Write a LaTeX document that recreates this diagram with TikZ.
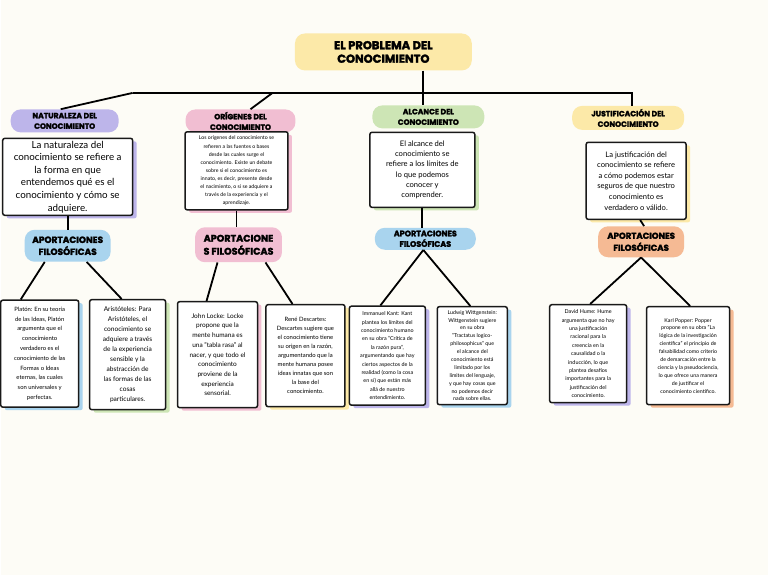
\documentclass[tikz,border=0pt]{standalone}
\usepackage{fontspec}
\setmainfont{Lato}
\newfontfamily\headfont[FakeBold=2.5]{Poppins}
\usetikzlibrary{shadows}
\definecolor{bgcol}{HTML}{FDFCF6}
\definecolor{ttlyellow}{HTML}{FCE9A8}
\definecolor{lavender}{HTML}{BDB5EA}
\definecolor{rosepink}{HTML}{F1BED2}
\definecolor{leafgreen}{HTML}{CDE5B5}
\definecolor{skyblue}{HTML}{A9D4EE}
\definecolor{peach}{HTML}{F5BA94}
\newcommand{\fsz}[2]{\fontsize{#1}{#2}\selectfont}
\begin{document}
\begin{tikzpicture}[x=1pt,y=-1pt,
    pill/.style={fill=#1, rounded corners=10pt, align=center, inner sep=0pt,
      font=\headfont\bfseries\fsz{7.6}{10.5}},
    card/.style={draw=black!90, line width=1.5pt, fill=white, rounded corners=2pt,
      align=center, inner sep=0pt,
      general shadow={fill=#1, shadow xshift=4pt, shadow yshift=-3pt}},
    link/.style={line width=1.8pt, black}]
        \fill [bgcol] (0,0) rectangle (768,576);
        \node [pill=ttlyellow, minimum width=177pt, minimum height=37pt, font=\headfont\bfseries\fsz{11.5}{13.5}] (title) at (383,52) {EL PROBLEMA DEL\\CONOCIMIENTO};
        \node [pill=lavender, minimum width=108pt, minimum height=23pt] (nat) at (64,121) {NATURALEZA DEL\\CONOCIMIENTO};
        \node [pill=rosepink, minimum width=110pt, minimum height=23pt] (ori) at (240,121) {ORÍGENES DEL\\CONOCIMIENTO};
        \node [pill=leafgreen, minimum width=112pt, minimum height=23pt] (alc) at (428,117) {ALCANCE DEL\\CONOCIMIENTO};
        \node [pill=ttlyellow, minimum width=112pt, minimum height=24pt] (jus) at (628,118) {JUSTIFICACIÓN DEL\\CONOCIMIENTO};

        \node [card=lavender, minimum width=130pt, minimum height=77pt, font=\fsz{9.8}{12.6}] (natdesc) at (67,177) {La naturaleza del\\conocimiento se refiere a\\la forma en que\\entendemos qué es el\\conocimiento y cómo se\\adquiere.};
        \node [card=rosepink, minimum width=103pt, minimum height=78pt, font=\fsz{5.2}{8.1}] (oridesc) at (236,171) {Los orígenes del conocimiento se\\refieren a las fuentes o bases\\desde las cuales surge el\\conocimiento. Existe un debate\\sobre si el conocimiento es\\innato, es decir, presente desde\\el nacimiento, o si se adquiere a\\través de la experiencia y el\\aprendizaje.};
        \node [card=leafgreen, minimum width=105pt, minimum height=75pt, font=\fsz{7.6}{10.4}] (alcdesc) at (422,170) {El alcance del\\conocimiento se\\refiere a los límites de\\lo que podemos\\conocer y\\comprender.};
        \node [card=ttlyellow, minimum width=100pt, minimum height=77pt, font=\fsz{7.6}{10.6}] (jusdesc) at (636,181) {La justificación del\\conocimiento se refiere\\a cómo podemos estar\\seguros de que nuestro\\conocimiento es\\verdadero o válido.};

        \node [pill=skyblue, minimum width=86pt, minimum height=32pt, font=\headfont\bfseries\fsz{9}{12}] (apo1) at (67,246) {APORTACIONES\\FILOSÓFICAS};
        \node [pill=rosepink, minimum width=87pt, minimum height=35pt, font=\headfont\bfseries\fsz{9.6}{13}] (apo2) at (238,245) {APORTACIONE\\S FILOSÓFICAS};
        \node [pill=skyblue, minimum width=101pt, minimum height=22pt, font=\headfont\bfseries\fsz{8}{10.5}] (apo3) at (425,239) {APORTACIONES\\FILOSÓFICAS};
        \node [pill=peach, minimum width=86pt, minimum height=31pt, font=\headfont\bfseries\fsz{8.6}{12}] (apo4) at (641,242) {APORTACIONES\\FILOSÓFICAS};

        \node [card=skyblue, minimum width=78pt, minimum height=107pt, font=\fsz{5.9}{9.8}] (platon) at (39,354) {Platón: En su teoría\\de las Ideas, Platón\\argumenta que el\\conocimiento\\verdadero es el\\conocimiento de las\\Formas o Ideas\\eternas, las cuales\\son universales y\\perfectas.};
        \node [card=leafgreen, minimum width=76pt, minimum height=110pt, font=\fsz{6.6}{10}] (aristo) at (127,355) {Aristóteles: Para\\Aristóteles, el\\conocimiento se\\adquiere a través\\de la experiencia\\sensible y la\\abstracción de\\las formas de las\\cosas\\particulares.};
        \node [card=rosepink, minimum width=80pt, minimum height=106pt, font=\fsz{6.5}{9.7}] (locke) at (217,355) {John Locke: Locke\\propone que la\\mente humana es\\una "tabla rasa" al\\nacer, y que todo el\\conocimiento\\proviene de la\\experiencia\\sensorial.};
        \node [card=ttlyellow, minimum width=79pt, minimum height=102pt, font=\fsz{5.9}{9}] (descartes) at (305,356) {René Descartes:\\Descartes sugiere que\\el conocimiento tiene\\su origen en la razón,\\argumentando que la\\mente humana posee\\ideas innatas que son\\la base del\\conocimiento.};
        \node [card=lavender, minimum width=76pt, minimum height=99pt, font=\fsz{5.4}{8.4}] (kant) at (387,356) {Immanuel Kant: Kant\\plantea los límites del\\conocimiento humano\\en su obra "Crítica de\\la razón pura",\\argumentando que hay\\ciertos aspectos de la\\realidad (como la cosa\\en sí) que están más\\allá de nuestro\\entendimiento.};
        \node [card=skyblue, minimum width=70pt, minimum height=98pt, font=\fsz{5.3}{7.9}] (witt) at (472,356) {Ludwig Wittgenstein:\\Wittgenstein sugiere\\en su obra\\"Tractatus logico-\\philosophicus" que\\el alcance del\\conocimiento está\\limitado por los\\límites del lenguaje,\\y que hay cosas que\\no podemos decir\\nada sobre ellas.};
        \node [card=lavender, minimum width=77pt, minimum height=98pt, font=\fsz{5.4}{8.4}] (hume) at (588,354) {David Hume: Hume\\argumenta que no hay\\una justificación\\racional para la\\creencia en la\\causalidad o la\\inducción, lo que\\plantea desafíos\\importantes para la\\justificación del\\conocimiento.};
        \node [card=peach, minimum width=83pt, minimum height=98pt, font=\fsz{5.3}{7.9}] (popper) at (688,356) {Karl Popper: Popper\\propone en su obra "La\\lógica de la investigación\\científica" el principio de\\falsabilidad como criterio\\de demarcación entre la\\ciencia y la pseudociencia,\\lo que ofrece una manera\\de justificar el\\conocimiento científico.};

        \coordinate (hub) at (423,93);
        \coordinate (hl) at (132,93);
        \coordinate (ho) at (272,93);
        \coordinate (hr) at (632,93);
        \draw [link] (title.south -| hub) -- (alc.north -| hub);
        \draw [link] (hl) -- (hr) -- (jus.north -| hr);
        \draw [link] (hl) -- ([xshift=-4pt]nat.north);
        \draw [link] (ho) -- ([xshift=10pt]ori.north);
        \draw [link] (natdesc.south) -- (apo1.north);
        \draw [link] (oridesc.south) -- (oridesc.south |- apo2.north);
        \draw [link] (alcdesc.south) -- (alcdesc.south |- apo3.north);
        \draw [link] ([xshift=4pt]jusdesc.south) -- ([xshift=3pt]apo4.north);
        \draw [link] ([xshift=-23pt]apo1.south) -- ([xshift=-19pt]platon.north);
        \draw [link] ([xshift=19pt]apo1.south) -- ([xshift=-6pt]aristo.north);
        \draw [link] ([xshift=-21pt]apo2.south) -- ([xshift=-11pt]locke.north);
        \draw [link] ([xshift=27pt]apo2.south) -- ([xshift=-13pt]descartes.north);
        \draw [link] ([xshift=-2pt]apo3.south) -- ([xshift=-7pt]kant.north);
        \draw [link] ([xshift=-2pt]apo3.south) -- ([xshift=-2pt]witt.north);
        \draw [link] (apo4.south) -- ([xshift=2pt]hume.north);
        \draw [link] (apo4.south) -- ([xshift=2pt]popper.north);
\end{tikzpicture}
\end{document}
